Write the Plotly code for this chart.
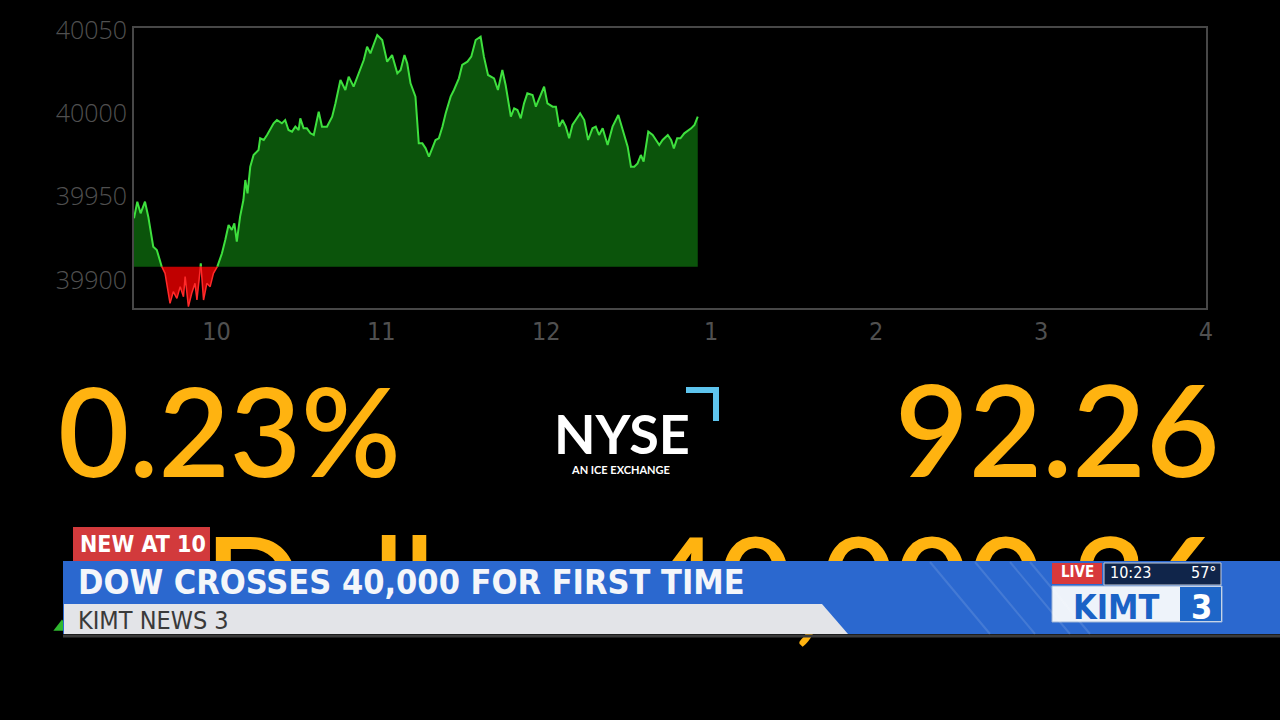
import numpy as np
import plotly.graph_objects as go

W, H = 1280, 720

# --- data: Dow intraday, minutes after 9:30 and index level ---
minutes = [0, 1.2, 2.4, 4.0, 5.2, 7.0, 8.3, 10.1, 11.3, 13.1, 14.3, 15.6, 16.8, 18.0, 18.6,
           19.8, 21.0, 22.2, 22.9, 24.3, 25.3, 26.5, 27.7, 28.9, 30.1, 32.0, 33.2, 34.4, 35.6,
           36.5, 37.4, 38.6, 39.8, 40.5, 41.3, 42.3, 43.5, 45.3, 45.9, 47.2, 48.4, 50.8, 52.0,
           53.8, 55.0, 56.2, 57.5, 58.7, 59.9, 60.5, 61.7, 62.9, 64.2, 65.4, 67.2, 68.4, 70.2,
           72.1, 73.3, 75.1, 76.9, 78.1, 79.9, 81.8, 83.6, 84.8, 86.0, 88.5, 90.3, 92.1, 93.9,
           95.8, 97.0, 98.4, 99.4, 100.6, 102.4, 103.6, 104.9, 106.1, 107.3, 108.5, 109.7, 110.9,
           112.2, 113.4, 115.2, 116.4, 118.2, 119.4, 121.3, 122.7, 124.3, 126.1, 127.3, 128.8,
           131.0, 132.4, 134.0, 135.2, 137.1, 138.3, 139.5, 140.7, 141.9, 143.1, 145.0, 146.2,
           148.0, 149.2, 150.4, 152.3, 153.5, 154.7, 155.9, 157.1, 158.3, 159.5, 160.7, 162.3,
           163.8, 165.2, 166.8, 168.0, 169.2, 170.5, 172.3, 174.1, 176.2, 177.8, 179.6, 180.8,
           182.0, 183.2, 184.4, 185.4, 187.1, 188.7, 189.9, 191.1, 192.3, 194.2, 195.4, 196.4,
           197.6, 198.8, 200.2, 202.7, 203.9, 205.1]
values = [39937, 39947, 39940, 39947, 39938, 39920, 39918, 39908, 39904, 39886, 39893, 39889,
          39896, 39890, 39902, 39884, 39892, 39898, 39888, 39910, 39888, 39898, 39896, 39904,
          39907, 39916, 39924, 39933, 39930, 39934, 39923, 39938, 39948, 39960, 39952, 39968,
          39975, 39978, 39985, 39984, 39987, 39994, 39996, 39994, 39996, 39990, 39989, 39992,
          39990, 39997, 39991, 39991, 39988, 39987, 40001, 39992, 39992, 39998, 40006, 40020,
          40014, 40022, 40016, 40024, 40032, 40040, 40036, 40047, 40044, 40031, 40035, 40024,
          40026, 40035, 40030, 40018, 40010, 39982, 39982, 39979, 39974, 39979, 39984, 39985,
          39992, 40000, 40010, 40014, 40021, 40029, 40031, 40034, 40044, 40046, 40034, 40023,
          40021, 40014, 40026, 40017, 39998, 40003, 40002, 39997, 40006, 40012, 40011, 40004,
          40011, 40016, 40006, 40004, 40004, 39992, 39996, 39992, 39985, 39993, 39996, 40000,
          39996, 39984, 39991, 39992, 39987, 39991, 39981, 39992, 39999, 39990, 39980, 39968,
          39968, 39970, 39975, 39971, 39989, 39987, 39984, 39981, 39984, 39987, 39984, 39979,
          39985, 39985, 39988, 39991, 39993, 39998]
prev_close = 39908.0

tick_hours = [10, 11, 12, 13, 14, 15, 16]
tick_text = ["10", "11", "12", "1", "2", "3", "4"]
y_ticks = [39900, 39950, 40000, 40050]
y_tick_text = ["39900", "39950", "40000", "40050"]

pct_change = "0.23%"
pt_change = "92.26"
last_label = "Dollar"
last_value = "40,000.26"
headline = "DOW CROSSES 40,000 FOR FIRST TIME"
kicker = "NEW AT 10"
station = "KIMT NEWS 3"
clock, temp = "10:23", "57°"

YELLOW = "#ffb310"
NARROW = "Liberation Sans Narrow, DejaVu Sans Condensed, Arial Narrow, sans-serif"


def px(x):
    return x / W


def py(y):
    return 1 - y / H


def poly(pts):
    return "M " + " L ".join(f"{px(x):.5f},{py(y):.5f}" for x, y in pts) + " Z"


# split the series where it crosses the previous close so both colours meet cleanly
t = 9.5 + np.array(minutes) / 60
v = np.array(values, dtype=float)
xs, ys = [t[0]], [v[0]]
for i in range(1, len(t)):
    a, b = v[i - 1] - prev_close, v[i] - prev_close
    if a * b < 0:
        f = a / (a - b)
        xs.append(t[i - 1] + f * (t[i] - t[i - 1]))
        ys.append(prev_close)
    xs.append(t[i])
    ys.append(v[i])
xs, ys = np.array(xs), np.array(ys)
base = np.full_like(ys, prev_close)

fig = go.Figure()
fig.add_trace(go.Scatter(x=xs, y=base, mode="lines", line=dict(width=0), hoverinfo="skip"))
fig.add_trace(go.Scatter(x=xs, y=np.maximum(ys, prev_close), mode="lines", line=dict(width=0),
                         fill="tonexty", fillcolor="#0b540b", hoverinfo="skip"))
fig.add_trace(go.Scatter(x=xs, y=base, mode="lines", line=dict(width=0), hoverinfo="skip"))
fig.add_trace(go.Scatter(x=xs, y=np.minimum(ys, prev_close), mode="lines", line=dict(width=0),
                         fill="tonexty", fillcolor="#c00000", hoverinfo="skip"))
fig.add_trace(go.Scatter(x=xs, y=np.where(ys >= prev_close, ys, np.nan), mode="lines",
                         line=dict(color="#3ee03e", width=2)))
fig.add_trace(go.Scatter(x=xs, y=np.where(ys <= prev_close, ys, np.nan), mode="lines",
                         line=dict(color="#ff2a2a", width=1.5)))

# second row of the ticker, mostly hidden behind the lower-third banner
fig.add_trace(go.Scatter(
    x=[205, 1220], y=[597, 597], mode="text", text=[last_label, last_value],
    textposition=["middle right", "middle left"],
    textfont=dict(family="Lato", size=127, color=YELLOW, weight=600),
    xaxis="x2", yaxis="y2", hoverinfo="skip"))
fig.add_trace(go.Scatter(
    x=[62], y=[627], mode="markers", marker=dict(symbol="triangle-up", size=15, color="#2fb82f"),
    xaxis="x2", yaxis="y2", hoverinfo="skip"))


def box(pts, fill, line=None):
    return dict(type="path", path=poly(pts), xref="paper", yref="paper", fillcolor=fill,
                line=line or dict(width=0), layer="above")


def rect(x0, y0, x1, y1, fill, line=None):
    return box([(x0, y0), (x1, y0), (x1, y1), (x0, y1)], fill, line)


shapes = [
    # NYSE corner mark
    box([(686, 387), (719, 387), (719, 421), (713, 421), (713, 393), (686, 393)], "#5ec4ee"),
    # lower third
    rect(63, 561, 1280, 634, "#2b68cf"),
    box([(64, 604), (822, 604), (848, 634), (64, 634)], "#e3e4e8"),
    dict(type="line", xref="paper", yref="paper", x0=px(63), x1=px(1280), y0=py(636), y1=py(636),
         line=dict(color="#3a3a3a", width=3), layer="above"),
    rect(73, 527, 210, 561, "#d23a3c"),
    # station bug
    rect(1052, 563, 1102, 584, "#d8393b"),
    rect(1104, 563, 1221, 585, "#10254a", dict(color="#c8d0dc", width=1)),
    rect(1052, 586, 1222, 622, "#eef3fa", dict(color="#9fb5d6", width=1)),
    rect(1180, 587, 1221, 621, "#1e66c8"),
]
for x0 in [930, 975, 1010, 1030]:
    shapes.append(dict(type="line", xref="paper", yref="paper", x0=px(x0), x1=px(x0 + 60),
                       y0=py(562), y1=py(634), line=dict(color="rgba(255,255,255,0.12)", width=2),
                       layer="above"))


def note(text, x, y, size, color, family="Lato", xanchor="left", weight="normal"):
    return dict(text=text, x=px(x), y=py(y), xref="paper", yref="paper", showarrow=False,
                xanchor=xanchor, yanchor="middle",
                font=dict(family=family, size=size, color=color, weight=weight))


annotations = [
    note(pct_change, 56, 429, 123, YELLOW, weight=600),
    note(pt_change, 1222, 428, 127, YELLOW, xanchor="right", weight=600),
    note("NYSE", 622, 433, 54, "white", xanchor="center", weight="bold"),
    note("AN ICE EXCHANGE", 620, 469, 11, "white", xanchor="center", weight="bold"),
    note(kicker, 78, 544, 23, "white", family=NARROW, weight="bold"),
    note(headline, 76, 582, 34, "#f4f6fa", family=NARROW, weight="bold"),
    note(station, 76, 620, 25, "#3a3a3a", family=NARROW),
    note("LIVE", 1077, 572, 15, "white", family=NARROW, xanchor="center", weight="bold"),
    note(clock, 1108, 572, 16, "white", family=NARROW),
    note(temp, 1219, 572, 16, "white", family=NARROW, xanchor="right"),
    note("KIMT", 1116, 607, 34, "#1a62c6", family=NARROW, xanchor="center", weight="bold"),
    note("3", 1201, 607, 34, "white", family=NARROW, xanchor="center", weight="bold"),
]

axis_common = dict(showgrid=False, zeroline=False, showline=True, mirror=True, automargin=False,
                   linecolor="#474747", linewidth=2, ticks="", fixedrange=True)

fig.update_layout(
    width=W, height=H,
    margin=dict(l=0, r=0, t=0, b=0, pad=0),
    paper_bgcolor="black", plot_bgcolor="rgba(0,0,0,0)",
    showlegend=False,
    xaxis=dict(domain=[134 / W, 1206 / W], range=[9.5, 16], tickvals=tick_hours, ticktext=tick_text,
               tickfont=dict(family=NARROW, size=25, color="#505050"), **axis_common),
    yaxis=dict(domain=[py(308), py(28)], range=[39883.2, 40051.2], tickvals=y_ticks,
               ticktext=y_tick_text,
               tickfont=dict(family="Open Sans", size=25, color="#505050", weight=300),
               **axis_common),
    xaxis2=dict(domain=[0, 1], range=[0, W], visible=False, anchor="y2", fixedrange=True),
    yaxis2=dict(domain=[0, 1], range=[H, 0], visible=False, anchor="x2", fixedrange=True),
    shapes=shapes,
    annotations=annotations,
)

fig.write_html("out.html", config={"displayModeBar": False},
               post_script="document.body.style.margin='0';")
